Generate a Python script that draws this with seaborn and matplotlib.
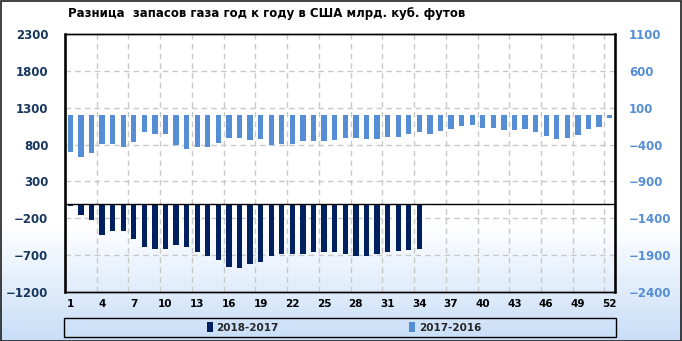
import numpy as np
import pandas as pd
import matplotlib
matplotlib.use("Agg")
import matplotlib.pyplot as plt
from matplotlib.patches import Rectangle, Patch
import seaborn as sns

weeks_1817 = list(range(1, 35))
vals_1817 = [-30, -155, -218, -421, -367, -367, -475, -596, -610, -610,
             -556, -596, -664, -705, -772, -867, -880, -826, -799, -705,
             -678, -678, -678, -664, -664, -664, -678, -718, -705, -678,
             -664, -650, -637, -610]

weeks_1716 = list(range(1, 53))
vals_1716 = [-500, -568, -514, -391, -391, -432, -364, -227, -255, -255,
             -405, -459, -432, -432, -377, -309, -309, -336, -323, -409,
             -391, -391, -350, -350, -350, -336, -309, -309, -323, -323,
             -295, -295, -255, -227, -255, -214, -186, -145, -132, -173,
             -173, -200, -200, -186, -227, -282, -323, -309, -268, -186,
             -159, -36]

left_ticks = [2300, 1800, 1300, 800, 300, -200, -700, -1200]
right_ticks = [1100, 600, 100, -400, -900, -1400, -1900, -2400]
x_ticks = list(range(1, 53, 3))

title = "Разница  запасов газа год к году в США млрд. куб. футов"
label_1817 = "2018-2017"
label_1716 = "2017-2016"

dark = "#002060"
light = "#558ED5"
left_lab = "#17375E"

sns.set_style("white")
plt.rcParams['font.family'] = ['DejaVu Sans']

W, H = 682, 341
fig = plt.figure(figsize=(W / 100, H / 100), dpi=100)

# background gradient
bg = fig.add_axes([0, 0, 1, 1], zorder=-10)
n = 341
grad = np.ones((n, 1, 3))
top_c = np.array([1.0, 1.0, 1.0])
bot_c = np.array([0xC8, 0xDE, 0xF8]) / 255.0
for i in range(n):
    t = i / (n - 1)
    f = 0 if t < 0.66 else ((t - 0.66) / 0.34)
    grad[i, 0, :] = top_c * (1 - f) + bot_c * f
bg.imshow(grad, aspect='auto', extent=[0, 1, 0, 1], origin='upper')
bg.set_xlim(0, 1)
bg.set_ylim(0, 1)
bg.axis('off')
bg.add_patch(Rectangle((0.5 / W, 0.5 / H), 1 - 1.5 / W, 1 - 1.5 / H, fill=False,
                       edgecolor='#202020', lw=1.2, transform=bg.transAxes))

ax = fig.add_axes([65 / W, 1 - 292 / H, 550 / W, 258 / H])
ax.patch.set_alpha(0)

df1 = pd.DataFrame({"week": weeks_1817, "val": vals_1817})
df2 = pd.DataFrame({"week": weeks_1716, "val": vals_1716})

sns.barplot(data=df1, x="week", y="val", native_scale=True, color=dark,
            saturation=1, width=0.5, errorbar=None, ax=ax, zorder=3)
ax2 = ax.twinx()
sns.barplot(data=df2, x="week", y="val", native_scale=True, color=light,
            saturation=1, width=0.5, errorbar=None, ax=ax2, zorder=3)

# enforce bar width of half a category
for a in (ax, ax2):
    for p in a.patches:
        c = p.get_x() + p.get_width() / 2
        p.set_width(0.5)
        p.set_x(c - 0.25)
        p.set_linewidth(0)

ax.set_ylim(-1200, 2300)
ax2.set_ylim(-2400, 1100)
ax.set_xlim(0.5, 52.5)
ax.set_yticks(left_ticks)
ax2.set_yticks(right_ticks)
ax.set_xticks(x_ticks)
ax.set_xticklabels([str(t) for t in x_ticks])
ax.set_xlabel("")
ax.set_ylabel("")
ax2.set_ylabel("")

ax.grid(False)
ax2.grid(False)
for y in left_ticks[1:-1]:
    ax.axhline(y, color='#C8C8C8', lw=1, ls=(0, (4, 3)), zorder=1)
for x in np.arange(3.5, 52, 3):
    ax.axvline(x, color='#C8C8C8', lw=1, ls=(0, (4, 3)), zorder=1)
ax.axhline(0, color='black', lw=1, zorder=4)

ax.tick_params(axis='both', which='both', length=0)
ax2.tick_params(axis='both', which='both', length=0)
ax.tick_params(axis='y', pad=12, labelsize=8.5, labelcolor=left_lab)
ax2.tick_params(axis='y', pad=10, labelsize=8.5, labelcolor=light)
ax.tick_params(axis='x', pad=5, labelsize=7.5, labelcolor='black')
for lab in ax.get_xticklabels():
    lab.set_fontweight('bold')
for lab in ax.get_yticklabels() + ax2.get_yticklabels():
    lab.set_fontweight('semibold')

for a in (ax, ax2):
    for s in a.spines.values():
        s.set_color('black')
        s.set_linewidth(1)
ax.spines['left'].set_linewidth(1.8)
ax2.spines['right'].set_linewidth(1.8)

fig.text(68 / W, 1 - 13 / H, title, fontsize=8.5, fontweight='bold',
         ha='left', va='center', color='black')

# legend box
bg.add_patch(Rectangle((64 / W, 1 - 337 / H), 552 / W, 19 / H, fill=False,
                       edgecolor='black', lw=1, transform=bg.transAxes, zorder=5))
handles = [Patch(facecolor=dark, edgecolor='none', label=label_1817),
           Patch(facecolor=light, edgecolor='none', label=label_1716)]
fig.legend(handles=handles, loc='center', bbox_to_anchor=(344 / W, 1 - 327.5 / H),
           ncol=2, frameon=False, handlelength=0.6,
           handleheight=1.0, handletextpad=0.35, columnspacing=12.5,
           prop={'weight': 'bold', 'size': 7.5})

fig.savefig("out.png", dpi=100)
